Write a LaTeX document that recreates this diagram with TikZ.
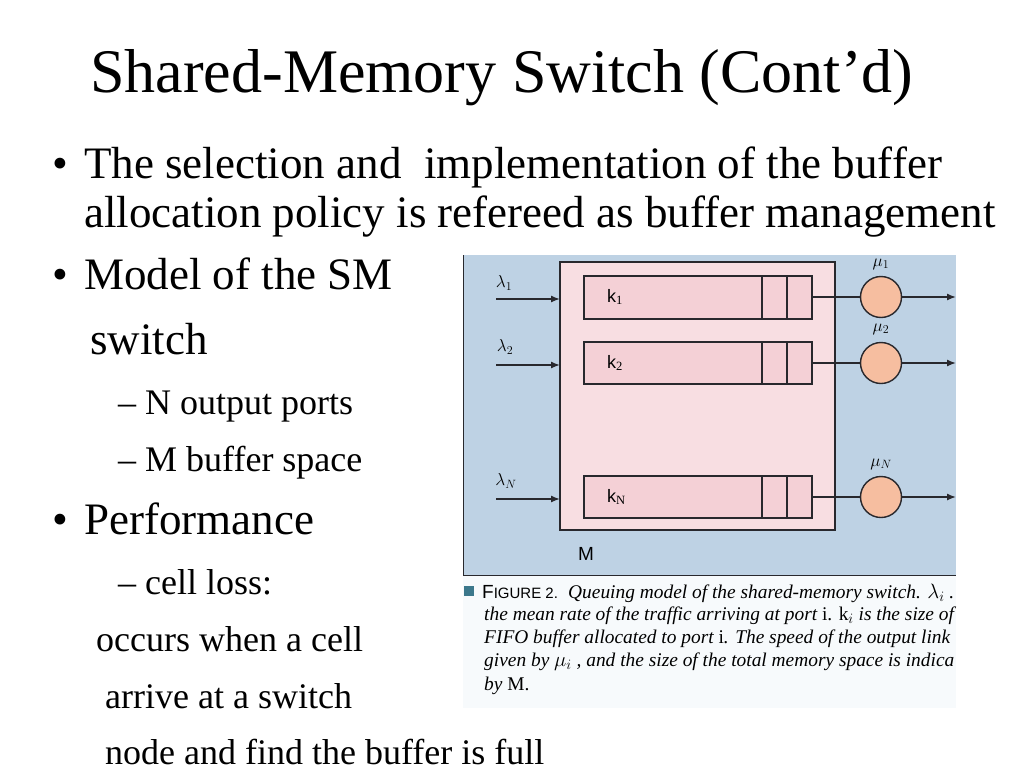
\documentclass[tikz,border=0pt]{standalone}
\usepackage{fontspec}
\setmainfont{Liberation Serif}
\newfontfamily\figsans{Liberation Sans}
\usetikzlibrary{arrows.meta}
\definecolor{figbg}{RGB}{190,210,228}
\definecolor{boxpink}{RGB}{248,222,226}
\definecolor{bufpink}{RGB}{244,208,214}
\definecolor{circ}{RGB}{246,190,160}
\definecolor{ink}{RGB}{40,40,45}
\definecolor{sq}{RGB}{60,120,140}
\begin{document}
\begin{tikzpicture}[x=1pt,y=-1pt,
  txt/.style={anchor=base west,inner sep=0pt},
  big/.style={txt,font=\fontsize{45}{45}\selectfont},
  small/.style={txt,font=\fontsize{36}{36}\selectfont},
  buf/.style={draw=ink,line width=1.4pt,fill=bufpink},
  srv/.style={circle,draw=ink,line width=1.4pt,fill=circ,minimum size=41pt,inner sep=0pt},
  arr/.style={draw=ink,line width=1.4pt,-{Latex[length=9pt,width=7pt]}},
  lab/.style={font=\figsans\fontsize{18}{18}\selectfont,inner sep=0pt},
  capt/.style={txt,font=\fontsize{19.4}{19.4}\selectfont\itshape}]
\useasboundingbox[fill=white] (0,0) rectangle (1024,768);
\node[txt,font=\fontsize{62}{62}\selectfont] (title) at (90,92) {Shared-Memory Switch (Cont’d)};
\node[big] (b1) at (52,178) {•};
\node[big] (t1) at (84,178) {The selection and\ \ implementation of the buffer};
\node[big] (t1b) at (84,227) {allocation policy is refereed as buffer management};
\node[big] (b2) at (52,289) {•};
\node[big] (t2) at (84,289) {Model of the SM};
\node[big] (t2b) at (90,354) {switch};
\node[small] (s1) at (118,414) {– N output ports};
\node[small] (s2) at (118,471) {– M buffer space};
\node[big] (b3) at (52,534) {•};
\node[big] (t3) at (84,534) {Performance};
\node[small] (s3) at (118,594) {– cell loss:};
\node[small] (s4) at (96,651) {occurs when a cell};
\node[small] (s5) at (105,708) {arrive at a switch};
\node[small] (s6) at (105,764) {node and find the buffer is full};
% figure
\fill[figbg] (463,255) rectangle (956,575);
\fill[white!88!figbg] (463,575) rectangle (956,708);
\draw[ink,line width=1pt] (463,255) -- (463,575) -- (956,575);
\draw[ink,line width=1.4pt,fill=boxpink] (560,262) rectangle (835,530);
\foreach \n/\ya/\yb/\yc in {1/276/319/297, 2/342/384/363, N/476/518/497}{
  \draw[buf] (584,\ya) rectangle (812,\yb);
  \draw[ink,line width=1.4pt] (762,\ya) -- (762,\yb) (787,\ya) -- (787,\yb);
  \node[lab,anchor=west] (kl\n) at (607,\yc) {k$_{\mathrm{\n}}$};
  \coordinate (bo\n) at (812,\yc);
  \node[srv] (c\n) at (881,\yc) {};
  \draw[ink,line width=1.4pt] (bo\n) -- (c\n);
  \coordinate (oe\n) at (956,\yc);
  \draw[arr] (c\n) -- (oe\n);
  \coordinate (is\n) at (496,\yc+2);
  \coordinate (ie\n) at (560,\yc+2);
  \draw[arr] (is\n) -- (ie\n);
}
\node[lab] (l1) at (504,283) {$\lambda_1$};
\node[lab] (l2) at (505,347) {$\lambda_2$};
\node[lab] (lN) at (506,481) {$\lambda_N$};
\node[lab] (m1) at (881,264) {$\mu_1$};
\node[lab] (m2) at (881,329) {$\mu_2$};
\node[lab] (mN) at (881,464) {$\mu_N$};
\node[lab,font=\figsans\fontsize{19}{19}\selectfont] (M) at (586,554) {M};
\fill[sq] (464,586) rectangle (474,596);
\node[txt,font=\figsans\fontsize{19}{19}\selectfont] (fig) at (482,598) {F\fontsize{15}{15}\selectfont IGURE 2.};
\node[capt] (c1) at (568,598) {Queuing model of the shared-memory switch. $\lambda_i$ .};
\node[capt] (c2) at (484,620) {the mean rate of the traffic arriving at port \upshape i. k$_i$ \itshape is the size of};
\node[capt] (c3) at (484,643) {FIFO buffer allocated to port \upshape i\itshape. The speed of the output link};
\node[capt] (c4) at (484,666) {given by $\mu_i$ , and the size of the total memory space is indica};
\node[capt] (c5) at (484,690) {by \upshape M.};
\end{tikzpicture}
\end{document}
